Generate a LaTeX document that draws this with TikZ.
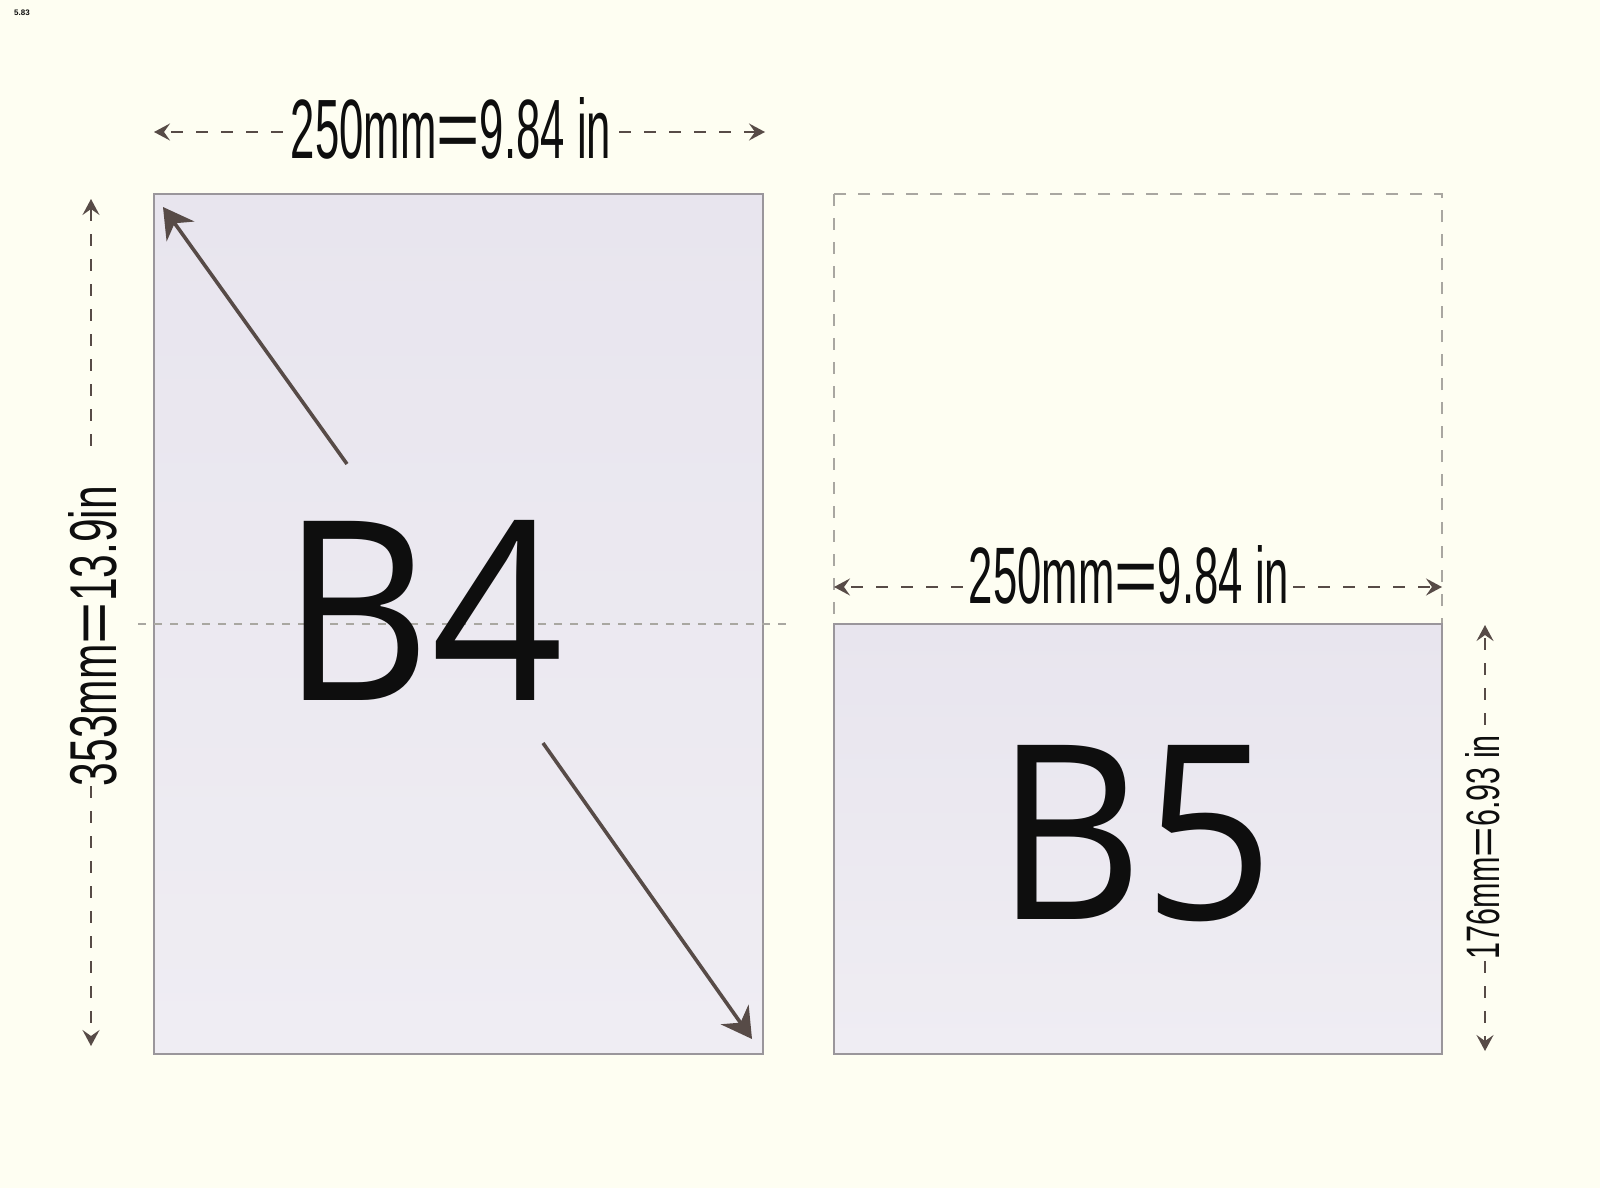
\documentclass[tikz,border=0pt]{standalone}
\usepackage{fontspec}
\setmainfont{Liberation Sans}
\newfontfamily\bigfont{Open Sans}
\usetikzlibrary{arrows.meta}
\definecolor{bgc}{HTML}{FEFEF2}
\definecolor{paperc}{HTML}{E8E5EE}
\definecolor{paperlt}{HTML}{EFEDF3}
\definecolor{edgec}{HTML}{9A969B}
\definecolor{guidec}{HTML}{A9A7A1}
\definecolor{arrowc}{HTML}{574B47}
\definecolor{inkc}{HTML}{0E0E0E}
\newcommand{\wideeq}{\scalebox{1.7}[1]{=}}
\begin{document}
\begin{tikzpicture}[x=0.5pt,y=-0.5pt,
  paper/.style={top color=paperc, bottom color=paperlt, draw=edgec, line width=0.7pt},
  guide/.style={draw=guidec, line width=0.6pt, dash pattern=on 4pt off 4pt},
  outline/.style={draw=guidec, line width=0.6pt, dash pattern=on 6pt off 6pt},
  dimline/.style={draw=arrowc, line width=0.9pt, dash pattern=on 6pt off 6.5pt, -{Stealth[length=8pt,width=8.5pt,inset=3pt]}},
  diag/.style={draw=arrowc, line width=1.8pt, -{Stealth[length=15pt,width=17pt,inset=5pt]}},
  dimtext/.style={inner sep=0pt, text=inkc},
  bigtext/.style={inner sep=0pt, text=inkc},
]
\fill[bgc] (0,0) rectangle (1600,1188);
\useasboundingbox (0,0) rectangle (1600,1188);

% tiny label
\node[text=inkc, font=\fontsize{4}{4}\selectfont\bfseries] (tiny) at (22,13) {5.83};

% B5-size dashed outline (upper half) and B5 sheet
\draw[outline] (834,194) rectangle (1442,624);
\draw[paper] (834,624) rectangle (1442,1054);

% B4 sheet
\draw[paper] (154,194) rectangle (763,1054);

% middle guide line
\coordinate (g1) at (138,624);
\coordinate (g2) at (792,624);
\draw[guide] (g1) -- (g2);

% big labels
\node[bigtext] (b4) at (423,610) {\resizebox{141pt}{90pt}{\bigfont B4}};
\node[bigtext] (b5) at (1135,834) {\resizebox{139.5pt}{87pt}{\bigfont B5}};

% diagonal arrows
\coordinate (d1s) at (347,464);
\coordinate (d1e) at (163,207);
\coordinate (d2s) at (543,743);
\coordinate (d2e) at (752,1039);
\draw[diag] (d1s) -- (d1e);
\draw[diag] (d2s) -- (d2e);

% top dimension
\coordinate (tl) at (154,132);
\coordinate (tr) at (765,132);
\node[dimtext] (tt) at (451,128) {\resizebox{160pt}{30.5pt}{250mm\wideeq9.84 in}};
\draw[dimline, shorten <=4pt] (tt.west |- tl) -- (tl);
\draw[dimline, shorten <=4pt] (tt.east |- tr) -- (tr);

% middle dimension
\coordinate (ml) at (834,587);
\coordinate (mr) at (1442,587);
\node[dimtext] (mt) at (1129,575) {\resizebox{160pt}{29pt}{250mm\wideeq9.84 in}};
\draw[dimline, shorten <=3pt] (mt.west |- ml) -- (ml);
\draw[dimline, shorten <=2pt] (mt.east |- mr) -- (mr);

% left vertical dimension
\coordinate (lv1) at (91,199);
\coordinate (lv2) at (91,1046);
\node[dimtext, rotate=90] (lt) at (93,636) {\resizebox{150pt}{24pt}{353mm\wideeq13.9in}};
\draw[dimline, shorten <=20pt] (lv1 |- lt.east) -- (lv1);
\draw[dimline] (lv2 |- lt.west) -- (lv2);

% right vertical dimension
\coordinate (rv1) at (1485,625);
\coordinate (rv2) at (1485,1051);
\node[dimtext, rotate=90] (rt) at (1483,847) {\resizebox{112pt}{17pt}{176mm\wideeq6.93 in}};
\draw[dimline, shorten <=5pt] (rv1 |- rt.east) -- (rv1);
\draw[dimline, shorten <=1pt] (rv2 |- rt.west) -- (rv2);
\end{tikzpicture}
\end{document}
